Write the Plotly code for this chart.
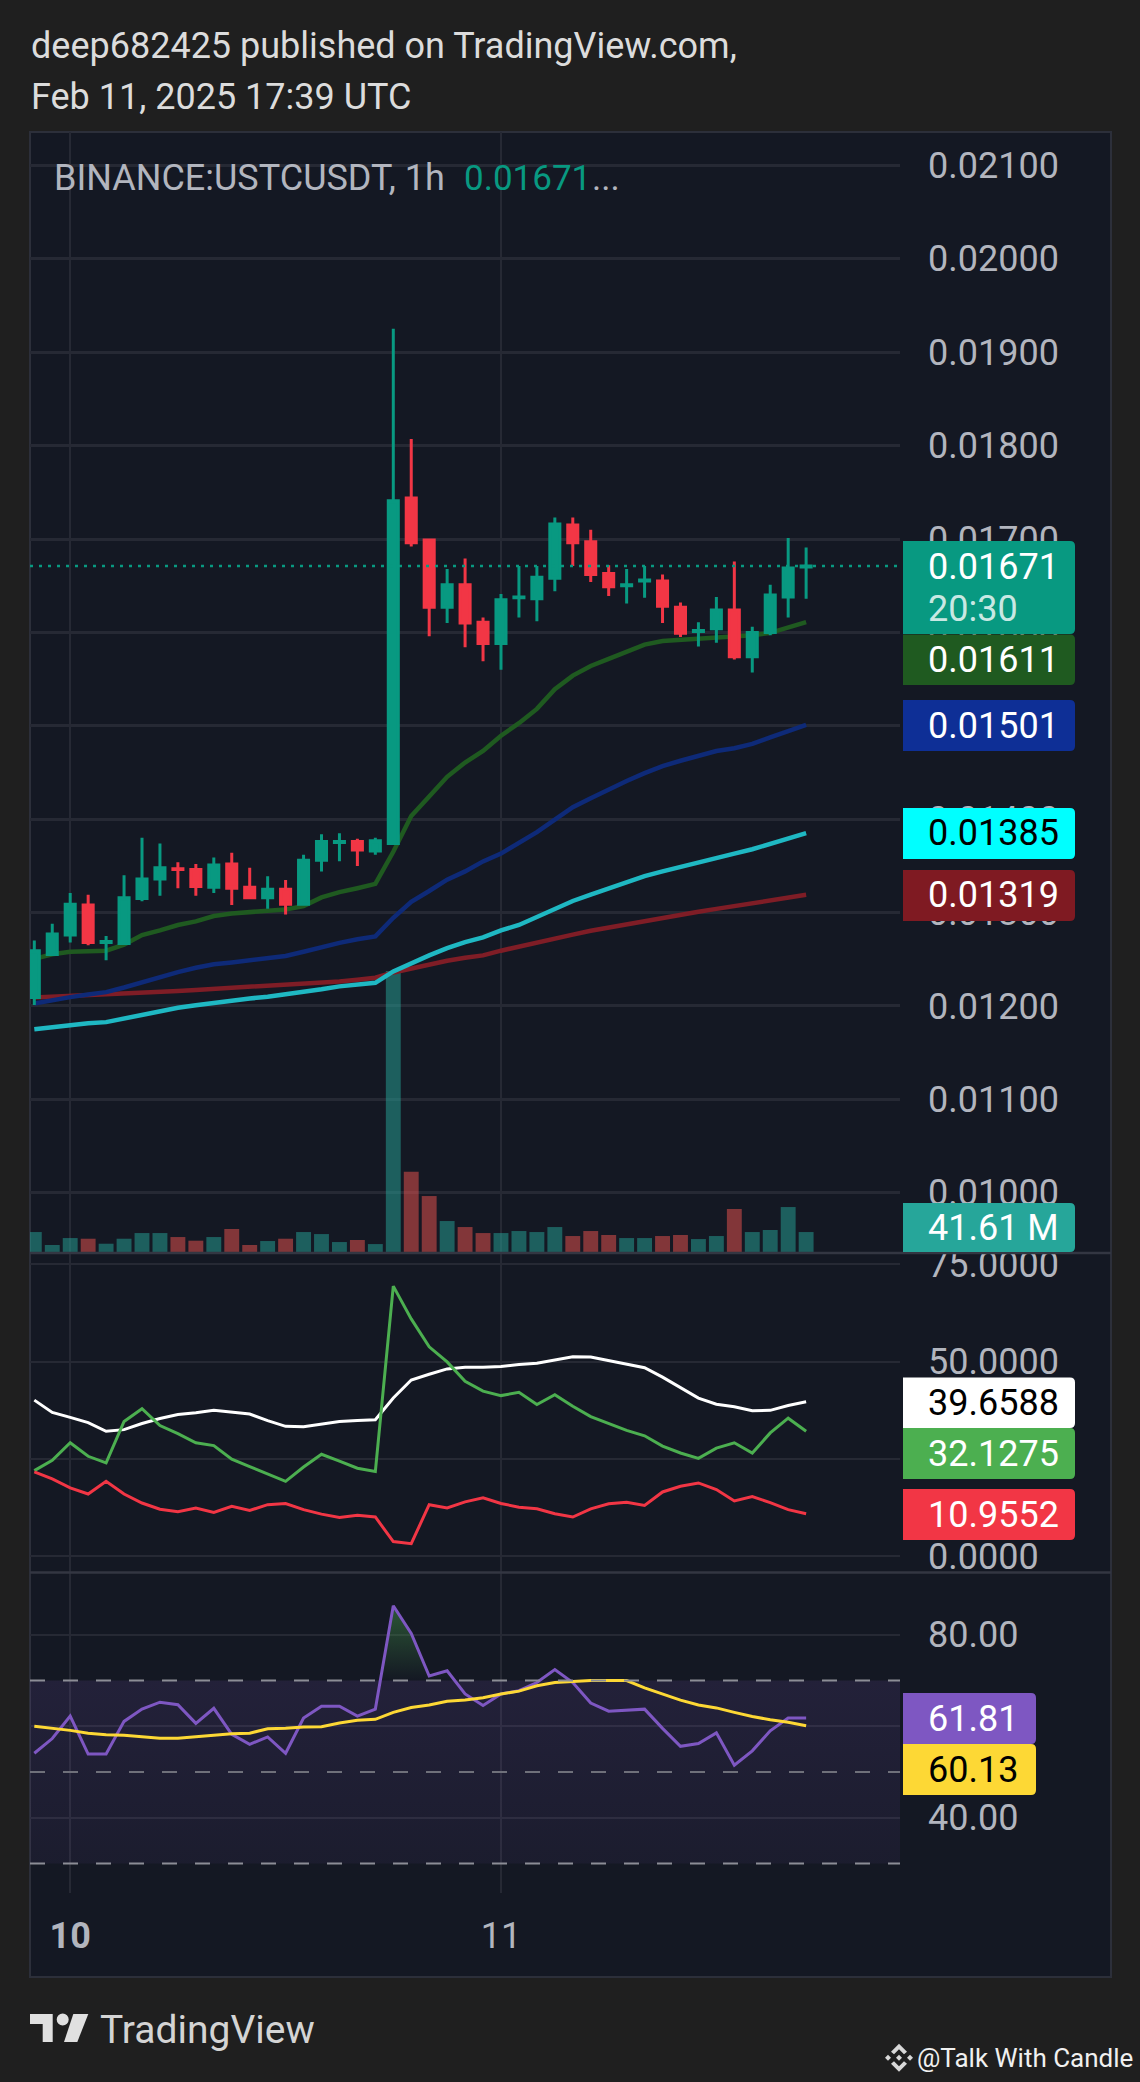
import plotly.graph_objects as go

W, H = 1140, 2082
BG = "#1f1f1f"
PANEL = "#141823"
GRID = "#262934"
TXT = "#b2b5be"
UP = "#089981"
DOWN = "#f23645"
FONT = "Roboto"

# one hourly bar per entry, Feb 10 - Feb 11 2025
bars = list(range(44))
day_ticks = [2, 26]
day_labels = ["<b>10</b>", "11"]

opens = [0.01209, 0.01255, 0.01276, 0.01308, 0.01268, 0.01267, 0.01315, 0.01336, 0.01347, 0.01346, 0.01327,
         0.01352, 0.01327, 0.01316, 0.01325, 0.01309, 0.01356, 0.01375, 0.01376, 0.01366, 0.01374, 0.01744,
         0.01699, 0.01627, 0.01651, 0.01611, 0.01588, 0.01637, 0.01636, 0.01658, 0.01715, 0.01697, 0.01663,
         0.01650, 0.01655, 0.01655, 0.01627, 0.01601, 0.01604, 0.01624, 0.01574, 0.01600, 0.01638, 0.01670]
highs = [0.01270, 0.01288, 0.01321, 0.01319, 0.01275, 0.01340, 0.01380, 0.01374, 0.01354, 0.01352, 0.01359,
         0.01364, 0.01348, 0.01339, 0.01335, 0.01362, 0.01384, 0.01385, 0.01379, 0.01380, 0.01925, 0.01807,
         0.01700, 0.01668, 0.01679, 0.01616, 0.01641, 0.01671, 0.01671, 0.01723, 0.01723, 0.01710, 0.01672,
         0.01668, 0.01671, 0.01662, 0.01632, 0.01611, 0.01638, 0.01676, 0.01606, 0.01651, 0.01701, 0.01691]
lows = [0.01201, 0.01254, 0.01268, 0.01265, 0.01249, 0.01266, 0.01312, 0.01318, 0.01326, 0.01318, 0.01321,
        0.01308, 0.01315, 0.01304, 0.01298, 0.01308, 0.01344, 0.01355, 0.01350, 0.01362, 0.01373, 0.01692,
        0.01596, 0.01610, 0.01584, 0.01569, 0.01560, 0.01616, 0.01612, 0.01644, 0.01671, 0.01654, 0.01639,
        0.01631, 0.01637, 0.01610, 0.01595, 0.01585, 0.01589, 0.01571, 0.01557, 0.01597, 0.01616, 0.01636]
closes = [0.01259, 0.01277, 0.01309, 0.01268, 0.01269, 0.01316, 0.01336, 0.01348, 0.01346, 0.01328, 0.01351,
          0.01326, 0.01316, 0.01325, 0.01309, 0.01356, 0.01376, 0.01376, 0.01367, 0.01377, 0.01741, 0.01696,
          0.01627, 0.01651, 0.01610, 0.01588, 0.01635, 0.01638, 0.01659, 0.01716, 0.01696, 0.01662, 0.01649,
          0.01651, 0.01656, 0.01628, 0.01599, 0.01602, 0.01624, 0.01574, 0.01600, 0.01640, 0.01669, 0.01671]

# volume in millions
volume = [41.6, 14.6, 29.1, 27.7, 17.3, 27.7, 39.5, 39.5, 31.2, 23.6, 31.2, 47.9, 14.6, 22.9, 27.7, 41.6, 37.4,
          20.8, 25.0, 16.6, 584.6, 167.1, 116.5, 64.5, 52.0, 39.5, 39.5, 43.7, 41.6, 52.0, 33.3, 43.7, 35.4, 29.1,
          29.1, 33.3, 35.4, 27.0, 33.3, 89.5, 41.6, 45.8, 93.6, 41.61]

ema20 = [0.012504, 0.012554, 0.012581, 0.012588, 0.012592, 0.012657, 0.012760, 0.012810, 0.012867, 0.012906,
         0.012963, 0.012990, 0.013009, 0.013020, 0.013032, 0.013070, 0.013162, 0.013219, 0.013261, 0.013307,
         0.013651, 0.014034, 0.014244, 0.014454, 0.014607, 0.014730, 0.014894, 0.015028, 0.015181, 0.015391,
         0.015537, 0.015640, 0.015716, 0.015793, 0.015869, 0.015908, 0.015919, 0.015927, 0.015946, 0.015950,
         0.015970, 0.015995, 0.016053, 0.016110]
ema50 = [0.012026, 0.012064, 0.012095, 0.012122, 0.012148, 0.012198, 0.012256, 0.012313, 0.012363, 0.012409,
         0.012447, 0.012466, 0.012493, 0.012512, 0.012535, 0.012581, 0.012630, 0.012676, 0.012714, 0.012745,
         0.012944, 0.013116, 0.013231, 0.013353, 0.013441, 0.013548, 0.013632, 0.013747, 0.013862, 0.013996,
         0.014129, 0.014225, 0.014321, 0.014409, 0.014493, 0.014569, 0.014626, 0.014680, 0.014730, 0.014760,
         0.014806, 0.014875, 0.014944, 0.015010]
ema100 = [0.011751, 0.011774, 0.011801, 0.011816, 0.011827, 0.011866, 0.011911, 0.011950, 0.011980, 0.012007,
          0.012034, 0.012057, 0.012080, 0.012099, 0.012122, 0.012148, 0.012179, 0.012210, 0.012233, 0.012248,
          0.012370, 0.012458, 0.012542, 0.012619, 0.012684, 0.012734, 0.012810, 0.012867, 0.012952, 0.013040,
          0.013124, 0.013192, 0.013261, 0.013326, 0.013391, 0.013441, 0.013491, 0.013544, 0.013594, 0.013632,
          0.013678, 0.013735, 0.013793, 0.013850]
ema200 = [0.012091, 0.012099, 0.012103, 0.012110, 0.012118, 0.012126, 0.012137, 0.012148, 0.012160, 0.012172,
          0.012183, 0.012191, 0.012202, 0.012214, 0.012221, 0.012233, 0.012248, 0.012263, 0.012282, 0.012302,
          0.012359, 0.012401, 0.012447, 0.012485, 0.012516, 0.012542, 0.012592, 0.012638, 0.012676, 0.012722,
          0.012764, 0.012806, 0.012841, 0.012879, 0.012913, 0.012944, 0.012978, 0.013009, 0.013040, 0.013070,
          0.013097, 0.013127, 0.013158, 0.013190]

adx = [40.10, 36.95, 35.68, 34.32, 32.11, 32.53, 34.11, 35.37, 36.42, 36.84, 37.47, 36.95, 36.53, 34.84, 33.37,
       33.26, 34.00, 34.63, 34.84, 35.05, 40.63, 45.26, 46.73, 48.10, 48.52, 48.52, 48.73, 49.25, 49.57, 50.41,
       51.25, 51.15, 50.20, 49.25, 48.41, 45.99, 43.36, 40.63, 39.05, 38.42, 37.37, 37.47, 38.73, 39.66]
di_plus = [22.01, 24.64, 29.16, 25.69, 24.01, 34.63, 37.89, 33.58, 31.48, 29.16, 28.43, 24.95, 23.06, 21.17, 19.27,
           22.95, 26.22, 24.43, 22.64, 21.80, 69.35, 60.93, 53.78, 49.89, 44.94, 42.42, 41.26, 42.10, 38.95, 41.47,
           38.53, 35.89, 34.11, 32.32, 30.95, 28.32, 26.53, 25.16, 27.79, 29.16, 26.53, 31.69, 35.47, 32.13]
di_minus = [21.69, 19.90, 17.59, 16.01, 19.27, 16.01, 13.70, 12.12, 11.49, 12.43, 11.28, 12.86, 11.80, 13.28, 13.59,
            12.01, 10.86, 10.01, 10.54, 10.12, 3.81, 3.28, 13.28, 12.43, 14.01, 15.06, 13.59, 12.64, 12.22, 10.96,
            10.12, 12.22, 13.49, 13.91, 13.07, 16.54, 18.01, 18.85, 17.17, 14.22, 15.38, 13.80, 12.01, 10.96]

rsi = [54.10, 57.31, 62.22, 53.92, 53.92, 61.06, 63.74, 65.26, 64.72, 60.62, 63.92, 58.21, 56.06, 57.67, 54.10,
       61.78, 64.37, 64.37, 62.22, 63.74, 86.33, 80.26, 70.97, 72.13, 67.05, 64.54, 67.05, 67.76, 69.55, 72.40,
       69.55, 65.08, 63.29, 63.47, 63.74, 59.54, 55.62, 56.24, 58.56, 51.51, 54.63, 59.01, 61.78, 61.81]
rsi_ma = [59.99, 59.54, 59.10, 58.47, 58.12, 58.03, 57.67, 57.40, 57.40, 57.67, 58.03, 58.38, 58.47, 59.46, 59.54,
          59.81, 59.90, 60.71, 61.33, 61.51, 63.03, 64.10, 64.63, 65.44, 65.71, 66.24, 67.05, 67.67, 68.83, 69.55,
          69.81, 69.99, 69.99, 69.99, 68.38, 67.05, 65.71, 64.63, 64.01, 63.03, 62.13, 61.42, 60.88, 60.13]
rsi_top, rsi_mid, rsi_low = 70, 50, 30

last_price = 0.01671

# pane edges in page pixels
PLOT_L, PLOT_R, FRAME_R = 30, 900, 1111
FRAME_T, FRAME_B = 132, 1977
PRICE_B, DMI_B, RSI_B = 1253, 1572.5, 1893
TAG_R, TAG_R_SHORT = 1075, 1036


def fx(px):
    return px / W


def fy(px):
    return 1 - px / H


def dom(top, bottom):
    return [fy(bottom), fy(top)]


def rect_path(x0, y0, x1, y1, r=5):
    # square on the left, rounded on the right like the TV price tags
    return (f"M {fx(x0)},{fy(y0)} L {fx(x1 - r)},{fy(y0)} Q {fx(x1)},{fy(y0)} {fx(x1)},{fy(y0 + r)} "
            f"L {fx(x1)},{fy(y1 - r)} Q {fx(x1)},{fy(y1)} {fx(x1 - r)},{fy(y1)} L {fx(x0)},{fy(y1)} Z")


def poly_path(points):
    return "M " + " L ".join(f"{fx(a)},{fy(b)}" for a, b in points) + " Z"


def note(text, x, y, size=36, color="#ffffff", font=FONT):
    return dict(text=text, x=fx(x), y=fy(y), xref="paper", yref="paper", xanchor="left", yanchor="middle",
                showarrow=False, font=dict(family=font, size=size, color=color), align="left")


def clip_above(xs, ys, level):
    # keeps the part of the line above level, adds the crossing points
    out_x, out_y = [xs[0]], [max(ys[0], level)]
    for i in range(1, len(xs)):
        a, b = ys[i - 1], ys[i]
        if (a - level) * (b - level) < 0:
            out_x.append(xs[i - 1] + (level - a) / (b - a))
            out_y.append(level)
        out_x.append(xs[i])
        out_y.append(max(b, level))
    return out_x, out_y


fig = go.Figure()

vol_colors = ["rgba(38,166,154,0.5)" if c >= o else "rgba(239,83,80,0.5)" for o, c in zip(opens, closes)]
fig.add_trace(go.Bar(x=bars, y=volume, marker=dict(color=vol_colors, line_width=0), yaxis="y"))

for values, color in [(ema200, "#7f1d26"), (ema100, "#1fb8c3"), (ema50, "#0e2a78"), (ema20, "#1f5a20")]:
    fig.add_trace(go.Scatter(x=bars, y=values, mode="lines", yaxis="y2", line=dict(color=color, width=4.5)))

fig.add_trace(go.Candlestick(
    x=bars, open=opens, high=highs, low=lows, close=closes, yaxis="y5",
    increasing=dict(line=dict(color=UP, width=3), fillcolor=UP),
    decreasing=dict(line=dict(color=DOWN, width=3), fillcolor=DOWN),
    whiskerwidth=0,
))

for values, color in [(adx, "#ffffff"), (di_plus, "#4caf50"), (di_minus, "#f23645")]:
    fig.add_trace(go.Scatter(x=bars, y=values, mode="lines", yaxis="y3", line=dict(color=color, width=3)))

# RSI band and overbought fill
x_lo, x_hi = -0.24, 48.23
fig.add_trace(go.Scatter(
    x=[x_lo, x_hi, x_hi, x_lo], y=[rsi_top, rsi_top, rsi_low, rsi_low], mode="none", yaxis="y4", fill="toself",
    fillgradient=dict(type="vertical", colorscale=[[0, "rgba(126,87,194,0.07)"], [1, "rgba(126,87,194,0.14)"]]),
))
over_x, over_y = clip_above(bars, rsi, rsi_top)
fig.add_trace(go.Scatter(
    x=over_x, y=over_y, mode="none", yaxis="y4", fill="toself",
    fillgradient=dict(type="vertical", colorscale=[[0, "rgba(76,175,80,0)"], [1, "rgba(76,175,80,0.42)"]]),
))
fig.add_trace(go.Scatter(x=bars, y=rsi, mode="lines", yaxis="y4", line=dict(color="#7e57c2", width=3)))
fig.add_trace(go.Scatter(x=bars, y=rsi_ma, mode="lines", yaxis="y4", line=dict(color="#fdd835", width=3)))

shapes = [
    dict(type="rect", xref="paper", yref="paper", x0=fx(PLOT_L), x1=fx(FRAME_R), y0=fy(FRAME_T), y1=fy(FRAME_B),
         fillcolor=PANEL, line=dict(color="#2c2f3a", width=2), layer="below"),
]
for level, color in [(rsi_top, "#8c8d96"), (rsi_mid, "#6f707a"), (rsi_low, "#8c8d96")]:
    shapes.append(dict(type="line", xref="paper", yref="y4", x0=fx(PLOT_L), x1=fx(PLOT_R), y0=level, y1=level,
                       line=dict(color=color, width=2, dash="15px,18px"), layer="above"))
for y in (PRICE_B, DMI_B):
    shapes.append(dict(type="line", xref="paper", yref="paper", x0=fx(PLOT_L), x1=fx(FRAME_R), y0=fy(y), y1=fy(y),
                       line=dict(color="#333642", width=2.5), layer="above"))
shapes.append(dict(type="line", xref="paper", yref="y2", x0=fx(PLOT_L), x1=fx(PLOT_R), y0=last_price, y1=last_price,
                   line=dict(color=UP, width=2.5, dash="3px,6px"), layer="above"))

annotations = []

# value tags on the right scale: text, top, bottom, right edge, fill, text colour
tags = [
    ("0.01611", 634.5, 685, TAG_R, "#1f5a20", "#ffffff"),
    ("0.01501", 700, 751, TAG_R, "#0e2f96", "#ffffff"),
    ("0.01385", 808, 859, TAG_R, "#00ffff", "#000000"),
    ("0.01319", 870, 921, TAG_R, "#7f1a22", "#ffffff"),
    ("41.61 M", 1203, 1252, TAG_R, "#26a69a", "#ffffff"),
    ("39.6588", 1377.5, 1428, TAG_R, "#ffffff", "#000000"),
    ("32.1275", 1428, 1479, TAG_R, "#4caf50", "#ffffff"),
    ("10.9552", 1489, 1540, TAG_R, "#f23645", "#ffffff"),
    ("61.81", 1693, 1744, TAG_R_SHORT, "#7e57c2", "#ffffff"),
    ("60.13", 1744, 1795, TAG_R_SHORT, "#fdd835", "#000000"),
]
shapes.append(dict(type="path", xref="paper", yref="paper", path=rect_path(903, 541, TAG_R, 634),
                   fillcolor=UP, line_width=0, layer="above"))
annotations.append(note("0.01671", 926, 567))
annotations.append(note("20:30", 926, 609, color="rgba(255,255,255,0.8)"))
for text, top, bottom, right, fill, ink in tags:
    shapes.append(dict(type="path", xref="paper", yref="paper", path=rect_path(903, top, right, bottom),
                       fillcolor=fill, line_width=0, layer="above"))
    annotations.append(note(text, 926, (top + bottom) / 2, color=ink))

# header and legend text
annotations.append(note("deep682425 published on TradingView.com,", 29, 46, size=36, color="#dcdcdc"))
annotations.append(note("Feb 11, 2025 17:39 UTC", 29, 97, size=36, color="#dcdcdc"))
annotations.append(note("BINANCE:USTCUSDT, 1h", 52, 178, size=36, color=TXT))
annotations.append(note("0.01671", 462, 178, size=35, color=UP))
annotations.append(note("...", 590, 178, size=35, color=TXT))

# footer
annotations.append(note("TradingView", 98, 2030, size=39, color="#d4d4d4"))
annotations.append(note("@Talk With Candle", 915, 2058, size=26, color="#f0f0f0"))

LOGO = "#e0e0e0"
for pts in ([(30, 2014), (52.7, 2014), (52.7, 2042), (42.7, 2042), (42.7, 2024), (30, 2024)],
            [(73.3, 2014), (88.3, 2014), (77.3, 2042), (64, 2042)]):
    shapes.append(dict(type="path", xref="paper", yref="paper", path=poly_path(pts), fillcolor=LOGO, line_width=0))
shapes.append(dict(type="circle", xref="paper", yref="paper", x0=fx(56.7), x1=fx(68.7), y0=fy(2013.5), y1=fy(2025.5),
                   fillcolor=LOGO, line_width=0))

cx, cy = 899, 2057.7
ICON = "#d8d8d8"
for dx, dy in [(0, 0), (-11, 0), (11, 0)]:
    shapes.append(dict(type="path", xref="paper", yref="paper", fillcolor=ICON, line_width=0,
                       path=poly_path([(cx + dx - 3, cy + dy), (cx + dx, cy + dy - 3),
                                       (cx + dx + 3, cy + dy), (cx + dx, cy + dy + 3)])))
for s in (-1, 1):
    shapes.append(dict(type="path", xref="paper", yref="paper", fillcolor=ICON, line_width=0,
                       path=poly_path([(cx, cy + s * 14), (cx + 8, cy + s * 6), (cx + 5, cy + s * 3.5), (cx, cy + s * 8.5),
                                       (cx - 5, cy + s * 3.5), (cx - 8, cy + s * 6)])))

tick_font = dict(family=FONT, size=36, color=TXT)
price_range = [0.009355, 0.021358]
price_dom = dom(FRAME_T, PRICE_B)

fig.update_layout(
    width=W, height=H,
    margin=dict(l=0, r=0, t=0, b=0, autoexpand=False),
    paper_bgcolor=BG, plot_bgcolor="rgba(0,0,0,0)",
    showlegend=False, bargap=0.17, boxgap=0.2,
    shapes=shapes, annotations=annotations,
    xaxis=dict(domain=[fx(PLOT_L), fx(PLOT_R)], range=[x_lo, x_hi], anchor="y4", rangeslider=dict(visible=False),
               tickmode="array", tickvals=day_ticks, ticktext=day_labels, tickfont=tick_font, ticks="",
               ticklabelstandoff=18, showgrid=True, gridcolor=GRID, gridwidth=2, zeroline=False, showline=False,
               automargin=False),
    # volume sits in the price pane on a hidden scale
    yaxis=dict(domain=price_dom, range=[-2, 2330], showticklabels=False, showgrid=False, zeroline=False,
               anchor="x", side="right", automargin=False),
    yaxis2=dict(domain=price_dom, range=price_range, overlaying="y", side="right", anchor="x", tick0=0.01, dtick=0.001,
                tickformat=".5f", tickfont=tick_font, ticks="", ticklabelstandoff=27, showgrid=True,
                gridcolor=GRID, gridwidth=2.5, zeroline=False, automargin=False),
    yaxis5=dict(domain=price_dom, range=price_range, overlaying="y", side="right", anchor="x", showticklabels=False,
                showgrid=False, zeroline=False, automargin=False),
    yaxis3=dict(domain=dom(PRICE_B, DMI_B), range=[-4.12, 77.84], side="right", anchor="x", tick0=0, dtick=25,
                tickformat=".4f", tickfont=tick_font, ticks="", ticklabelstandoff=27, showgrid=True,
                gridcolor=GRID, gridwidth=2, zeroline=False, automargin=False),
    yaxis4=dict(domain=dom(DMI_B, RSI_B), range=[23.57, 93.59], side="right", anchor="x", tick0=20, dtick=20,
                tickformat=".2f", tickfont=tick_font, ticks="", ticklabelstandoff=27, showgrid=True,
                gridcolor=GRID, gridwidth=2, zeroline=False, automargin=False),
)

# the default page keeps a white body margin around the plot
fig.write_html("out.html", config=dict(displayModeBar=False),
               post_script="document.body.style.margin='0';document.body.style.background='#1f1f1f';")
